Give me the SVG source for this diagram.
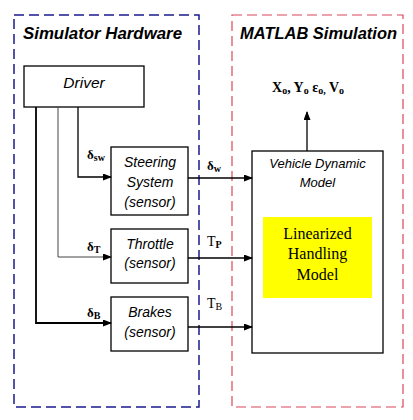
<svg xmlns="http://www.w3.org/2000/svg" width="413" height="420" viewBox="0 0 413 420">
<defs>
<marker id="ah" markerWidth="9" markerHeight="7" refX="8" refY="3.5" orient="auto" markerUnits="userSpaceOnUse">
<path d="M0,0 L9,3.5 L0,7 Z" fill="#000"/>
</marker>
<style>
.box{fill:#fff;stroke:#000;stroke-width:1.3}
.title{font-family:"Liberation Sans",Arial,sans-serif;font-weight:bold;font-style:italic;font-size:16px;fill:#000}
.lbl{font-family:"Liberation Sans",Arial,sans-serif;font-style:italic;font-size:14px;fill:#000;text-anchor:middle}
.ser{font-family:"Liberation Serif","Times New Roman",serif;fill:#000}
.wire{fill:none;stroke:#000;stroke-width:1.3}
</style>
</defs>
<rect width="413" height="420" fill="#fff"/>
<g id="simulator-hardware">
<rect x="14" y="15" width="185" height="392" fill="none" stroke="#1a1a8c" stroke-width="1.5" stroke-dasharray="10,5"/>
<text class="title" x="23" y="39" textLength="159" lengthAdjust="spacingAndGlyphs">Simulator Hardware</text>
</g>
<g id="matlab-simulation">
<rect x="232" y="15" width="171" height="392" fill="none" stroke="#d9465a" stroke-width="1.2" stroke-dasharray="10,5"/>
<text class="title" x="240" y="39" textLength="157" lengthAdjust="spacingAndGlyphs">MATLAB Simulation</text>
</g>
<g id="driver">
<rect class="box" x="24" y="66" width="120" height="41"/>
<text class="lbl" x="84" y="88" style="font-size:15.5px">Driver</text>
</g>
<g id="steering">
<rect class="box" x="111" y="147" width="77" height="68"/>
<text class="lbl" x="150" y="167">Steering</text>
<text class="lbl" x="150" y="187">System</text>
<text class="lbl" x="150" y="207">(sensor)</text>
</g>
<g id="throttle">
<rect class="box" x="111" y="229" width="77" height="54"/>
<text class="lbl" x="150" y="249">Throttle</text>
<text class="lbl" x="150" y="268">(sensor)</text>
</g>
<g id="brakes">
<rect class="box" x="111" y="297" width="77" height="54"/>
<text class="lbl" x="150" y="317">Brakes</text>
<text class="lbl" x="150" y="337">(sensor)</text>
</g>
<g id="vehicle">
<rect class="box" x="252" y="151" width="131" height="202"/>
<text class="lbl" x="317.5" y="168" style="font-size:13px">Vehicle Dynamic</text>
<text class="lbl" x="317.5" y="187" style="font-size:13px">Model</text>
</g>
<g id="handling">
<rect x="263" y="217" width="109" height="81" fill="#ffff00"/>
<text class="ser" x="317.5" y="239" text-anchor="middle" font-size="16">Linearized</text>
<text class="ser" x="317.5" y="259" text-anchor="middle" font-size="16">Handling</text>
<text class="ser" x="317.5" y="280" text-anchor="middle" font-size="16">Model</text>
</g>
<g id="connectors">
<path class="wire" d="M78,107 V177 H111" marker-end="url(#ah)"/>
<path class="wire" d="M58,107 V257 H111" marker-end="url(#ah)" style="stroke:#444;stroke-width:1"/>
<path class="wire" d="M36,107 V323 H111" marker-end="url(#ah)" style="stroke-width:1.8"/>
<path class="wire" d="M188,178 H252" marker-end="url(#ah)"/>
<path class="wire" d="M188,258 H252" marker-end="url(#ah)"/>
<path class="wire" d="M188,327 H252" marker-end="url(#ah)"/>
<path class="wire" d="M307,151 V112" marker-end="url(#ah)"/>
<text class="ser" x="87" y="159" font-size="13" font-weight="bold">δ<tspan font-size="10" dy="2">sw</tspan></text>
<text class="ser" x="87" y="251" font-size="13" font-weight="bold">δ<tspan font-size="10" dy="2">T</tspan></text>
<text class="ser" x="87" y="317" font-size="13" font-weight="bold">δ<tspan font-size="10" dy="2">B</tspan></text>
<text class="ser" x="207" y="170" font-size="13" font-weight="bold">δ<tspan font-size="10" dy="2">w</tspan></text>
<text class="ser" x="207" y="246" font-size="14">T<tspan font-size="10" dy="2" font-weight="bold">P</tspan></text>
<text class="ser" x="207" y="308" font-size="14">T<tspan font-size="10" dy="2">B</tspan></text>
<text class="ser" x="272" y="92" font-size="14" font-weight="bold">X<tspan font-size="10" dy="2">o</tspan><tspan dy="-2">, Y</tspan><tspan font-size="10" dy="2">o</tspan><tspan dy="-2"> ε</tspan><tspan font-size="10" dy="2">o,</tspan><tspan dy="-2"> V</tspan><tspan font-size="10" dy="2">o</tspan></text>
</g>
</svg>
